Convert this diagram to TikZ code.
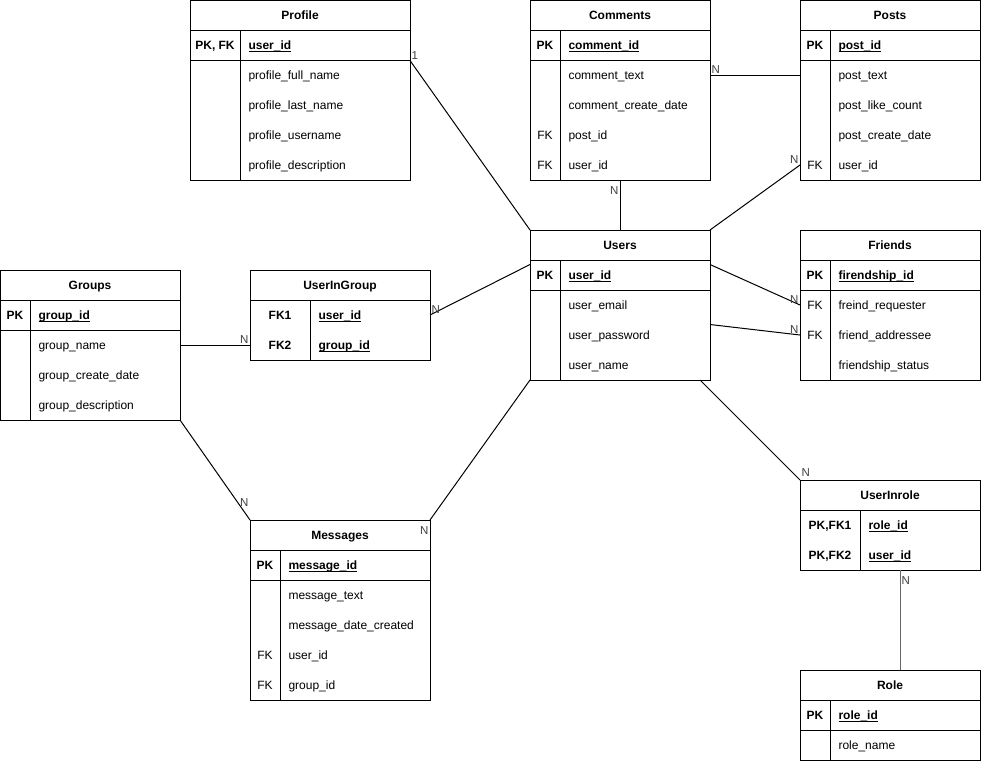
\documentclass[tikz,border=0pt]{standalone}
\usepackage{fontspec}
\setmainfont{Liberation Sans}
\usetikzlibrary{calc}

% underlined key name, rule at the underscore
\newcommand{\keyname}[1]{\underline{\smash{#1}}}

% #1 id, #2 left, #3 top, #4 width, #5 key column width,
% #6 key rows, #7 title, #8 rows key/field/style
\newcommand{\ertable}[8]{%
  \foreach \k/\f/\s [count=\i] in {#8} {
    \node[keycell, \s] (#1-k\i) at (#2+#5/2, #3+15+30*\i) {\k};
    \node[fieldcell, \s] (#1-f\i) at (#2+#5+6, #3+15+30*\i) {\f};
    \xdef\nrows{\i}
  }
  \node[tblbox, minimum width=#4, minimum height={30*(\nrows+1)}] (#1) at (#2,#3) {};
  \node[tbltitle] (#1-t) at (#2+#4/2, #3+15) {#7};
  \draw (#2,#3+30) -- ++(#4,0);
  \draw (#2,#3+30+30*#6) -- ++(#4,0);
  \draw (#2+#5,#3+30) -- (#2+#5,{#3+30*(\nrows+1)});
}

\begin{document}
\begin{tikzpicture}[x=1pt, y=-1pt, line width=1pt]

\tikzset{tblbox/.style = {draw, anchor=north west, inner sep=0pt, outer sep=0pt}}
\tikzset{tbltitle/.style = {font=\fontsize{12}{14}\selectfont\bfseries, text height=11pt, text depth=2pt}}
\tikzset{keycell/.style = {font=\fontsize{12}{14}\selectfont, inner sep=2pt, minimum height=30pt, text height=11pt, text depth=2pt}}
\tikzset{fieldcell/.style = {keycell, anchor=west}}
\tikzset{pk/.style = {font=\fontsize{12}{14}\selectfont\bfseries}}
\tikzset{plain/.style = {}}
\tikzset{card/.style = {font=\fontsize{11.5}{13}\selectfont, text=black!75, inner sep=1pt}}

\useasboundingbox (0,0) rectangle (981,761);

%tables
\ertable{profile}{190}{0}{220}{50}{1}{Profile}{{PK, FK}/\keyname{user\_id}/pk, /profile\_full\_name/plain, /profile\_last\_name/plain, /profile\_username/plain, /profile\_description/plain}
\ertable{comments}{530}{0}{180}{30}{1}{Comments}{PK/\keyname{comment\_id}/pk, /comment\_text/plain, /comment\_create\_date/plain, FK/post\_id/plain, FK/user\_id/plain}
\ertable{posts}{800}{0}{180}{30}{1}{Posts}{PK/\keyname{post\_id}/pk, /post\_text/plain, /post\_like\_count/plain, /post\_create\_date/plain, FK/user\_id/plain}
\ertable{users}{530}{230}{180}{30}{1}{Users}{PK/\keyname{user\_id}/pk, /user\_email/plain, /user\_password/plain, /user\_name/plain}
\ertable{friends}{800}{230}{180}{30}{1}{Friends}{PK/\keyname{firendship\_id}/pk, FK/freind\_requester/plain, FK/friend\_addressee/plain, /friendship\_status/plain}
\ertable{groups}{0}{270}{180}{30}{1}{Groups}{PK/\keyname{group\_id}/pk, /group\_name/plain, /group\_create\_date/plain, /group\_description/plain}
\ertable{uig}{250}{270}{180}{60}{2}{UserInGroup}{FK1/\keyname{user\_id}/pk, FK2/\keyname{group\_id}/pk}
\ertable{messages}{250}{520}{180}{30}{1}{Messages}{PK/\keyname{message\_id}/pk, /message\_text/plain, /message\_date\_created/plain, FK/user\_id/plain, FK/group\_id/plain}
\ertable{uir}{800}{480}{180}{60}{2}{UserInrole}{{PK,FK1}/\keyname{role\_id}/pk, {PK,FK2}/\keyname{user\_id}/pk}
\ertable{role}{800}{670}{180}{30}{1}{Role}{PK/\keyname{role\_id}/pk, /role\_name/plain}

%relations
\draw (profile.east |- profile-k1.south) -- (users.north west) node[card, pos=0, anchor=south west] {1};
\draw (comments.east |- comments-k2) -- (posts.west |- comments-k2) node[card, pos=0, anchor=south west] {N};
\draw (comments.south) -- (users.north) node[card, pos=0, anchor=north east, yshift=-5pt] {N};
\draw (posts.west |- posts-k5) -- (users.north east) node[card, pos=0, anchor=south east] {N};
\draw ($(users.east |- users-k1.north)+(0,-5pt)$) -- (friends.west |- friends-k2) node[card, pos=1, anchor=south east] {N};
\draw ($(users.east |- users-k3.north)+(0,-5pt)$) -- (friends.west |- friends-k3) node[card, pos=1, anchor=south east] {N};
\draw ($(users.west |- users-k1.north)+(0,-5pt)$) -- (uig.east |- uig-k1) node[card, pos=1, anchor=south west] {N};
\draw (groups.east |- groups-k2) -- (uig.west |- groups-k2) node[card, pos=1, anchor=south east] {N};
\draw (groups.south east) -- (messages.north west) node[card, pos=1, anchor=south east, yshift=12pt] {N};
\draw (users.south west) -- (messages.north east) node[card, pos=1, anchor=north east, yshift=-5pt] {N};
\draw ($(users.south east)+(-10pt,0)$) -- (uir.north west) node[card, pos=1, anchor=south west, yshift=2pt] {N};
\draw[draw=black!60] ($(uir.south)+(10pt,0)$) -- ($(role.north)+(10pt,0)$) node[card, pos=0, anchor=north west, yshift=-5pt] {N};

\end{tikzpicture}
\end{document}
